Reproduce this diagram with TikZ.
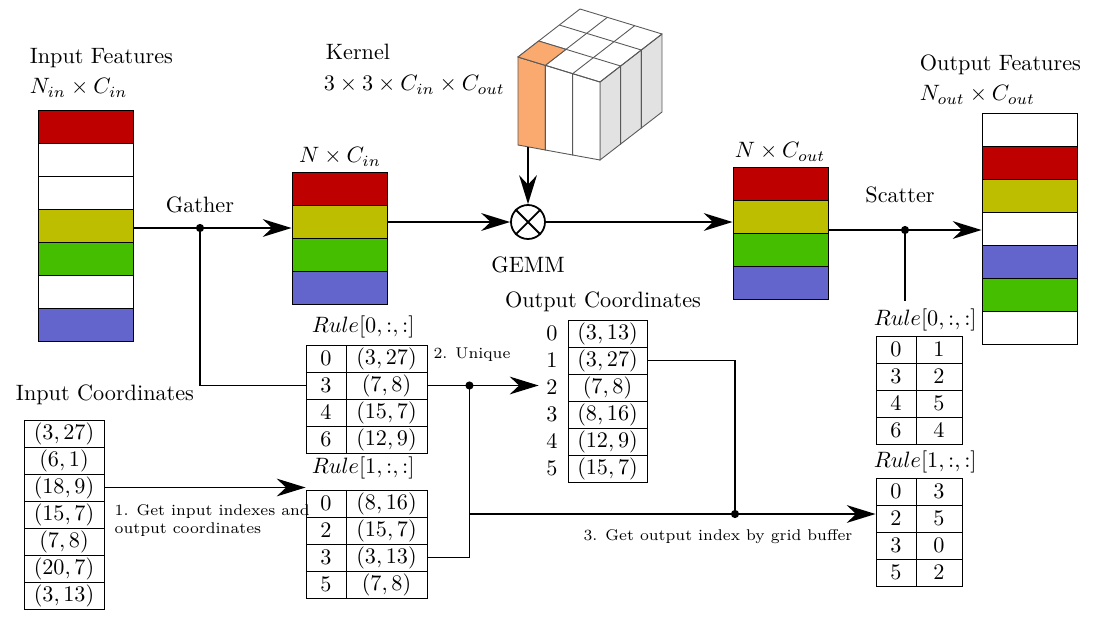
\documentclass[tikz,border=0pt]{standalone}
\usepackage{amsmath}
\usetikzlibrary{arrows.meta, calc, positioning}
\definecolor{barred}{RGB}{190,0,0}
\definecolor{baryellow}{RGB}{190,190,0}
\definecolor{bargreen}{RGB}{70,190,0}
\definecolor{barblue}{RGB}{100,100,205}
\definecolor{kernorange}{RGB}{250,170,110}
\definecolor{kerngrey}{RGB}{226,226,226}
\tikzset{
  bar/.style={draw, fill=#1, minimum width=42.75pt, minimum height=14.85pt, inner sep=0pt},
  cell/.style={draw, minimum width=#1, minimum height=12.15pt, inner sep=0pt},
  flow/.style={thick, -{Stealth[length=13pt,width=8pt]}},
  link/.style={semithick},
  dot/.style={circle, fill, inner sep=1.3pt},
  note/.style={font=\scriptsize, align=left},
}
\begin{document}
\begin{tikzpicture}[x=0.45pt,y=-0.45pt]
\useasboundingbox (0,0) rectangle (1105,624);

% feature columns
\node[anchor=west] at (22,58) {Input Features};
\node[anchor=west] at (22,88) {$N_{in}\times C_{in}$};
\foreach \c [count=\k] in {barred,white,white,baryellow,bargreen,white,barblue}
  \node[bar=\c] (in\k) at (85.5,{93.5+33*\k}) {};

\node at (340,157) {$N\times C_{in}$};
\foreach \c [count=\k] in {barred,baryellow,bargreen,barblue}
  \node[bar=\c] (ncin\k) at (339.5,{155.5+33*\k}) {};

\node at (780,152) {$N\times C_{out}$};
\foreach \c [count=\k] in {barred,baryellow,bargreen,barblue}
  \node[bar=\c] (ncout\k) at (780.5,{150.5+33*\k}) {};

\node[anchor=west] at (912,65) {Output Features};
\node[anchor=west] at (912,95) {$N_{out}\times C_{out}$};
\foreach \c [count=\k] in {white,barred,baryellow,white,barblue,bargreen,white}
  \node[bar=\c] (out\k) at (1029.5,{96.5+33*\k}) {};

% kernel
\node[anchor=west] at (318,52) {Kernel};
\node[anchor=west] at (316,85) {$3\times3\times C_{in}\times C_{out}$};
\coordinate (A) at (518,57);
\coordinate (B) at (600,82);
\coordinate (C) at (600,160);
\coordinate (D) at (518,145);
\coordinate (v) at (62,-48);
\foreach \i [evaluate=\i as \j using \i+1] in {0,1,2}{
  \ifnum\i=0 \def\kc{kernorange}\else\def\kc{white}\fi
  \draw[gray!70!black, fill=\kc] ($(A)!\i/3!(B)$) -- ($(A)!\j/3!(B)$) -- ($(D)!\j/3!(C)$) -- ($(D)!\i/3!(C)$) -- cycle;
  \draw[gray!70!black, fill=kerngrey] ($(B)+\i/3*(v)$) -- ($(B)+\j/3*(v)$) -- ($(C)+\j/3*(v)$) -- ($(C)+\i/3*(v)$) -- cycle;
}
\foreach \i in {0,1,2,3}{
  \draw[gray!70!black] ($(A)!\i/3!(B)$) -- ($(A)!\i/3!(B)+(v)$);
  \draw[gray!70!black] ($(A)+\i/3*(v)$) -- ($(B)+\i/3*(v)$);
}
\fill[kernorange] ($(A)$) -- ($(A)!1/3!(B)$) -- ($(A)!1/3!(B)+1/3*(v)$) -- ($(A)+1/3*(v)$) -- cycle;
\draw[gray!70!black] (A) -- ($(A)!1/3!(B)$) -- ($(A)!1/3!(B)+1/3*(v)$) -- ($(A)+1/3*(v)$) -- cycle;
\coordinate (kbot) at (528,147);

\node[draw, circle, minimum size=15.3pt, inner sep=0pt, thick] (gemm) at (528,222) {};
\draw[thick] (gemm.north west) -- (gemm.south east) (gemm.north east) -- (gemm.south west);
\node at (528,265) {GEMM};

% rule tables
\node[anchor=west] at (304,327) {$Rule[0,:,:]$};
\foreach \i/\v [count=\k] in {0/{(3,27)},3/{(7,8)},4/{(15,7)},6/{(12,9)}}{
  \node[cell=18pt] (r0i\k) at (326,{331.5+27*\k}) {$\i$};
  \node[cell=36.45pt] (r0v\k) at (386.5,{331.5+27*\k}) {$\v$};
}
\node[anchor=west] at (304,468) {$Rule[1,:,:]$};
\foreach \i/\v [count=\k] in {0/{(8,16)},2/{(15,7)},3/{(3,13)},5/{(7,8)}}{
  \node[cell=18pt] (r1i\k) at (326,{476.5+27*\k}) {$\i$};
  \node[cell=36.45pt] (r1v\k) at (386.5,{476.5+27*\k}) {$\v$};
}

\node at (603,302) {Output Coordinates};
\foreach \i/\v [count=\k] in {0/{(3,13)},1/{(3,27)},2/{(7,8)},3/{(8,16)},4/{(12,9)},5/{(15,7)}}{
  \node (oci\k) at (552,{306.5+27*\k}) {$\i$};
  \node[cell=35.5pt] (ocv\k) at (607.5,{306.5+27*\k}) {$\v$};
}

\node (ictitle) at (105,395) {Input Coordinates};
\foreach \v [count=\k] in {{(3,27)},{(6,1)},{(18,9)},{(15,7)},{(7,8)},{(20,7)},{(3,13)}}
  \node[cell=36pt] (ic\k) at (64,{406.5+27*\k}) {$\v$};

\node[anchor=west] (rr0lab) at (866,320) {$Rule[0,:,:]$};
\foreach \i/\v [count=\k] in {0/1,3/2,4/5,6/4}{
  \node[cell=18pt] (rr0i\k) at (896,{322.5+27*\k}) {$\i$};
  \node[cell=20.7pt] (rr0v\k) at (939,{322.5+27*\k}) {$\v$};
}
\node[anchor=west] at (866,462) {$Rule[1,:,:]$};
\foreach \i/\v [count=\k] in {0/3,2/5,3/0,5/2}{
  \node[cell=18pt] (rr1i\k) at (896,{464.5+27*\k}) {$\i$};
  \node[cell=20.7pt] (rr1v\k) at (939,{464.5+27*\k}) {$\v$};
}

% connectors
\coordinate (gdot) at (200,228);
\draw[flow] (in4.east |- gdot) -- (ncin2.west |- gdot);
\draw[link] (gdot) |- (r0i2.west);
\node[dot] at (gdot) {};
\node at (200,205) {Gather};

\draw[flow] (ncin2.east |- gemm) -- (gemm.west);
\draw[flow] (kbot) -- (gemm.north);
\draw[flow] (gemm.east) -- (gemm.east -| ncout2.west);

\coordinate (sdot) at (905,230);
\draw[flow] (ncout3.east |- sdot) -- (out4.west |- sdot);
\draw[link] (sdot) -- (sdot |- rr0lab.north);
\node[dot] at (sdot) {};
\node at (900,195) {Scatter};

\coordinate (udot) at ($(r0v2.east)+(42,0)$);
\coordinate (mdot) at (735,514);
\draw[flow] (r0v2.east) -- (r0v2.east -| oci3.west);
\draw[link] (r1v3.east) -| (udot);
\draw[link] (udot |- mdot) -- (mdot);
\draw[link] (ocv2.east) -| (mdot);
\draw[flow] (mdot) -- (rr1i2.west |- mdot);
\node[dot] at (udot) {};
\node[dot] at (mdot) {};
\node[note] at (472,355) {2. Unique};
\node[note] at (718,537) {3. Get output index by grid buffer};

\draw[flow] (ic3.east) -- (ic3.east -| r1i1.west);
\node[note, anchor=north west, inner sep=1pt] at (112,502) {1. Get input indexes and\\output coordinates};
\end{tikzpicture}
\end{document}
